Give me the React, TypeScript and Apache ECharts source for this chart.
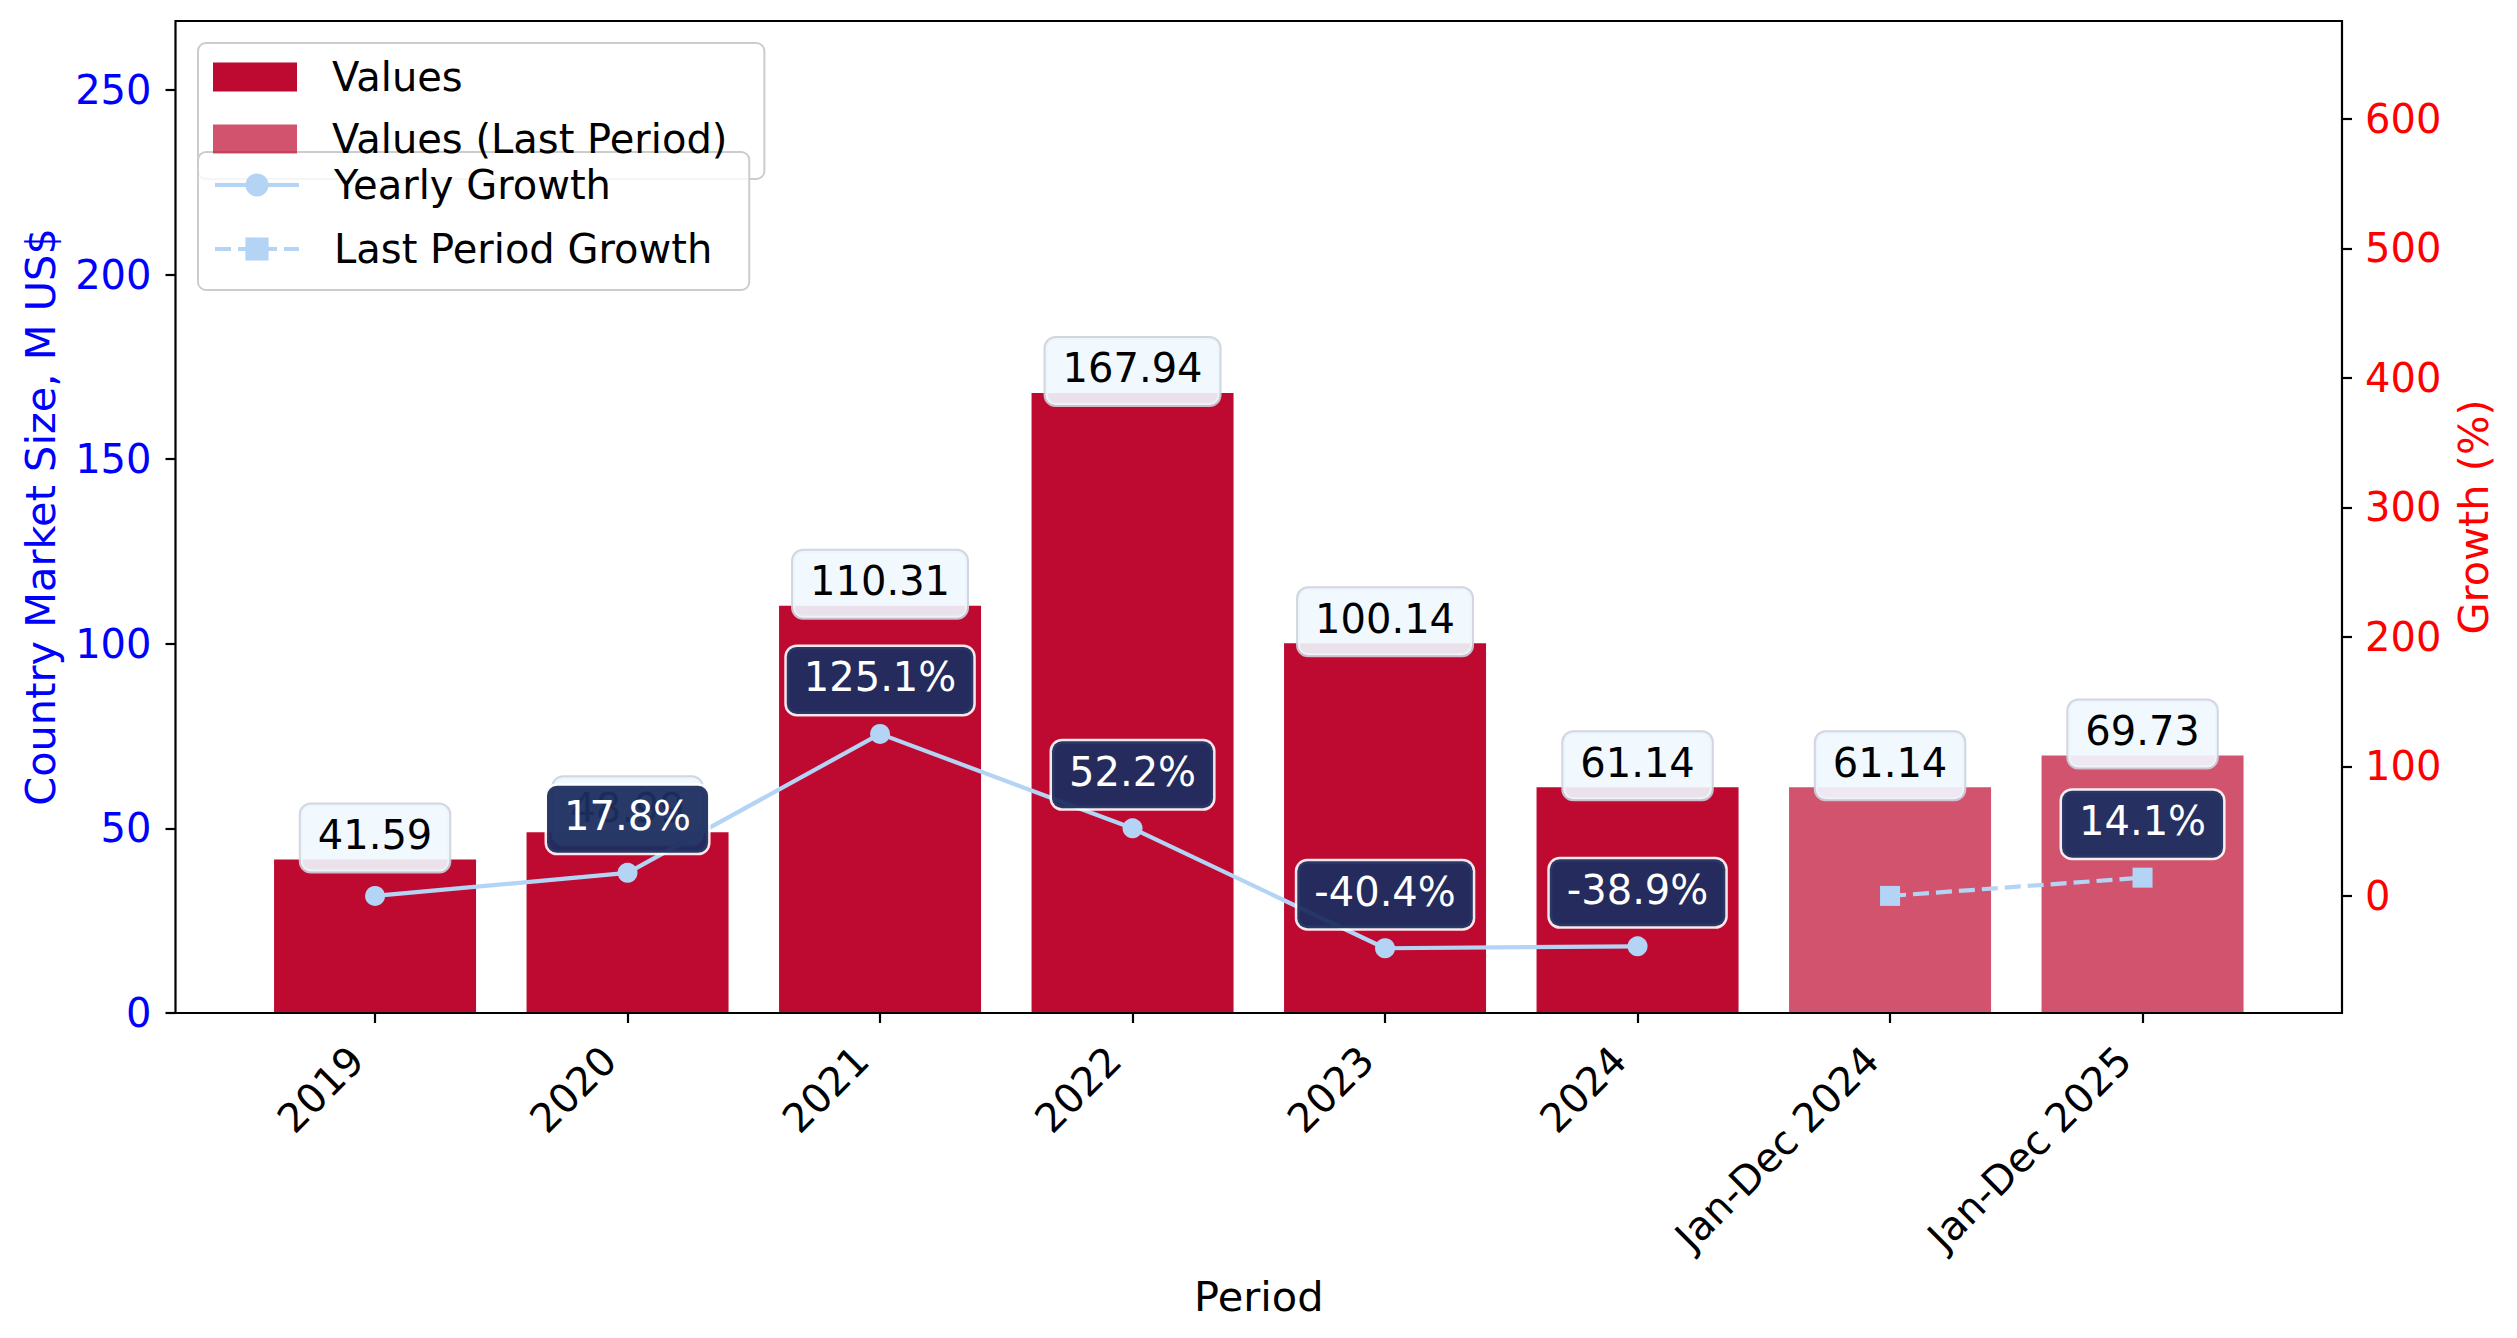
import React, { useEffect, useRef } from 'react';
import * as echarts from 'echarts';

const categories = ['2019', '2020', '2021', '2022', '2023', '2024', 'Jan-Dec 2024', 'Jan-Dec 2025'];
const values = [41.59, 48.99, 110.31, 167.94, 100.14, 61.14, null, null];
const lastPeriodValues = [null, null, null, null, null, null, 61.14, 69.73];
const yearlyGrowth = [0, 17.8, 125.1, 52.2, -40.4, -38.9, null, null];
const lastPeriodGrowth = [null, null, null, null, null, null, 0, 14.1];
const growthLabelHidden = [true, false, false, false, false, false, true, false];
const leftTicks = [0, 50, 100, 150, 200, 250];
const rightTicks = [0, 100, 200, 300, 400, 500, 600];
const leftMin = 0;
const leftMax = 268.7;
const rightMin = -90.4;
const rightMax = 675.5;

const FONT = 'DejaVu Sans';
const FS = 40;
const TITLE_FS = 41.5;
const BAR_COLOR = '#be0a30';
const BAR_LAST_COLOR = 'rgba(190,10,48,0.7)';
const LINE_COLOR = '#b4d4f6';

const valueLabel = {
  show: true,
  position: 'top',
  distance: -12,
  formatter: (p: any) => Number(p.value).toFixed(2),
  fontSize: FS,
  lineHeight: 41,
  fontFamily: FONT,
  color: '#000',
  backgroundColor: 'rgba(240,248,255,0.9)',
  borderColor: 'rgba(205,210,220,0.9)',
  borderWidth: 2,
  borderRadius: 10,
  padding: [10, 17, 16, 17],
};

const growthLabel = {
  show: true,
  position: 'top',
  distance: 10,
  formatter: (p: any) => `${Number(p.value).toFixed(1)}%`,
  fontSize: FS,
  lineHeight: 41,
  fontFamily: FONT,
  color: '#fff',
  backgroundColor: 'rgba(28,46,96,0.95)',
  borderColor: 'rgba(255,255,255,0.9)',
  borderWidth: 2.5,
  borderRadius: 10,
  padding: [10, 17, 16, 17],
};

const toItems = (arr: (number | null)[]) =>
  arr.map((v, i) => (v == null ? null : growthLabelHidden[i] ? { value: v, label: { show: false } } : v));

const legendBase = {
  orient: 'vertical',
  left: 198,
  itemWidth: 84,
  itemHeight: 29,
  backgroundColor: 'rgba(255,255,255,0.8)',
  borderColor: '#cccccc',
  borderWidth: 2,
  borderRadius: 8,
  textStyle: { fontSize: FS, lineHeight: 44, color: '#000', fontFamily: FONT, padding: [0, 0, 0, 30] },
};

export default function App() {
  const ref = useRef<HTMLDivElement>(null);
  useEffect(() => {
    const chart = echarts.init(ref.current!, null, { renderer: 'svg' });
    const option: any = {
      animation: false,
      backgroundColor: '#fff',
      textStyle: { fontFamily: FONT },
      grid: [
        { left: 175.5, top: 21, width: 2166.5, height: 992, show: true, borderColor: '#000', borderWidth: 2.2, backgroundColor: 'transparent', z: 5 },
        { left: 248.8, top: 21, width: 2020, height: 992 },
      ],
      legend: [
        { ...legendBase, top: 43, itemGap: 18, padding: [12, 37, 18, 15], icon: 'rect', data: ['Values', 'Values (Last Period)'] },
        {
          ...legendBase,
          top: 152,
          itemGap: 20,
          padding: [11, 37, 19, 15],
          lineStyle: { width: 4 },
          data: ['Yearly Growth', 'Last Period Growth'],
        },
      ],
      xAxis: [
        { type: 'value', gridIndex: 0, show: false, min: 0, max: 1 },
        {
          type: 'category',
          gridIndex: 1,
          data: categories,
          axisLine: { show: false },
          axisTick: { show: true, alignWithLabel: true, length: 10, lineStyle: { color: '#000', width: 2.2 } },
          axisLabel: { interval: 0, rotate: 45, fontSize: FS, color: '#000', fontFamily: FONT, margin: 22, padding: [0, 26, 0, 0] },
          name: 'Period',
          nameLocation: 'middle',
          nameGap: 262,
          nameTextStyle: { fontSize: TITLE_FS, color: '#000', fontFamily: FONT },
        },
      ],
      yAxis: [
        { type: 'value', gridIndex: 0, show: false, min: 0, max: 1 },
        {
          type: 'value',
          gridIndex: 1,
          position: 'left',
          offset: 73.3,
          min: leftMin,
          max: leftMax,
          splitLine: { show: false },
          axisLine: { show: false },
          axisTick: { show: true, length: 10, lineStyle: { color: '#000', width: 2.2 }, customValues: leftTicks },
          axisLabel: { fontSize: FS, color: '#0000ff', fontFamily: FONT, margin: 24, customValues: leftTicks },
          name: 'Country Market Size, M US$',
          nameLocation: 'middle',
          nameGap: 114,
          nameTextStyle: { fontSize: TITLE_FS, color: '#0000ff', fontFamily: FONT },
        },
        {
          type: 'value',
          gridIndex: 1,
          position: 'right',
          offset: 73.2,
          min: rightMin,
          max: rightMax,
          splitLine: { show: false },
          axisLine: { show: false },
          axisTick: { show: true, length: 10, lineStyle: { color: '#000', width: 2.2 }, customValues: rightTicks },
          axisLabel: { fontSize: FS, color: '#ff0000', fontFamily: FONT, margin: 23, customValues: rightTicks },
          name: 'Growth (%)',
          nameLocation: 'middle',
          nameGap: 110,
          nameRotate: 90,
          nameTextStyle: { fontSize: TITLE_FS, color: '#ff0000', fontFamily: FONT },
        },
      ],
      series: [
        {
          name: 'Values',
          type: 'bar',
          xAxisIndex: 1,
          yAxisIndex: 1,
          data: values,
          barWidth: '80%',
          barGap: '-100%',
          itemStyle: { color: BAR_COLOR },
          label: valueLabel,
          z: 2,
        },
        {
          name: 'Values (Last Period)',
          type: 'bar',
          xAxisIndex: 1,
          yAxisIndex: 1,
          data: lastPeriodValues,
          barWidth: '80%',
          barGap: '-100%',
          itemStyle: { color: BAR_LAST_COLOR },
          label: valueLabel,
          z: 2,
        },
        {
          name: 'Yearly Growth',
          type: 'line',
          xAxisIndex: 1,
          yAxisIndex: 2,
          data: toItems(yearlyGrowth),
          symbol: 'circle',
          symbolSize: 20,
          lineStyle: { color: LINE_COLOR, width: 4.2 },
          itemStyle: { color: LINE_COLOR },
          label: growthLabel,
          z: 3,
        },
        {
          name: 'Last Period Growth',
          type: 'line',
          xAxisIndex: 1,
          yAxisIndex: 2,
          data: toItems(lastPeriodGrowth),
          symbol: 'rect',
          symbolSize: 20,
          lineStyle: { color: LINE_COLOR, width: 4.2, type: [16, 7] },
          itemStyle: { color: LINE_COLOR },
          label: growthLabel,
          z: 3,
        },
      ],
    };
    chart.setOption(option);
    return () => chart.dispose();
  }, []);
  return (
    <div
      ref={ref}
      style={{ position: 'absolute', left: 0, top: 0, width: 2517, height: 1338, background: '#fff' }}
    />
  );
}
